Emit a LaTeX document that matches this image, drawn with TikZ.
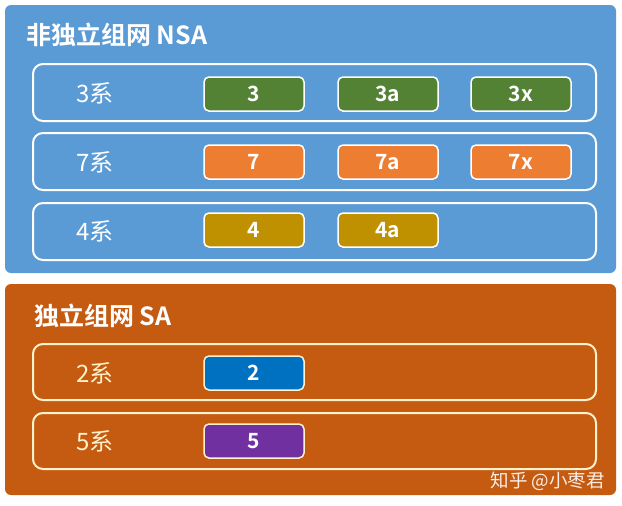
\documentclass[tikz,border=0pt]{standalone}
\usepackage{fontspec}
\setmainfont{Noto Sans CJK SC}
\newfontfamily\cjkbold{Noto Sans CJK SC Bold}
\definecolor{nsablue}{HTML}{5B9BD5}
\definecolor{saorange}{HTML}{C55A11}
\definecolor{cgreen}{HTML}{548235}
\definecolor{corange}{HTML}{ED7D31}
\definecolor{cgold}{HTML}{BF9000}
\definecolor{cblue}{HTML}{0070C0}
\definecolor{cpurple}{HTML}{7030A0}
\definecolor{cream}{HTML}{FFF2CC}
\begin{document}
\begin{tikzpicture}[x=1pt,y=-1pt,
  panel/.style={rounded corners=6pt},
  rowbox/.style={draw=#1,line width=2pt,rounded corners=10pt},
  chip/.style={draw=#1,line width=1.5pt,rounded corners=5pt,minimum width=100pt,minimum height=34pt,inner sep=0pt,text=white,font=\fontsize{21}{21}\selectfont\cjkbold},
  rowlabel/.style={text=#1,font=\fontsize{24}{24}\selectfont,anchor=west,inner sep=0pt},
  title/.style={text=white,font=\fontsize{25}{25}\selectfont\cjkbold,anchor=west,inner sep=0pt}]
\useasboundingbox (0,0) rectangle (622,506);
\fill[white] (0,0) rectangle (622,506);
% panels
\fill[nsablue,panel] (5,5) rectangle (616,273);
\fill[saorange,panel] (5,284) rectangle (616,495);
\node[title] (tnsa) at (26,35) {非独立组网 NSA};
\node[title] (tsa) at (34,316) {独立组网 SA};
% NSA rows
\draw[rowbox=white] (33,64) rectangle (596,121);
\draw[rowbox=white] (33,133) rectangle (596,190);
\draw[rowbox=white] (33,203) rectangle (596,260);
\node[rowlabel=white] (l3) at (76,93) {3系};
\node[rowlabel=white] (l7) at (76,162) {7系};
\node[rowlabel=white] (l4) at (76,231) {4系};
\node[chip=white,fill=cgreen] (c3) at (254,94) {3};
\node[chip=white,fill=cgreen] (c3a) at (388,94) {3a};
\node[chip=white,fill=cgreen] (c3x) at (521,94) {3x};
\node[chip=white,fill=corange] (c7) at (254,162) {7};
\node[chip=white,fill=corange] (c7a) at (388,162) {7a};
\node[chip=white,fill=corange] (c7x) at (521,162) {7x};
\node[chip=white,fill=cgold] (c4) at (254,230) {4};
\node[chip=white,fill=cgold] (c4a) at (388,230) {4a};
% SA rows
\draw[rowbox=cream] (33,344) rectangle (596,400);
\draw[rowbox=cream] (33,413) rectangle (596,469);
\node[rowlabel=cream] (l2) at (76,373) {2系};
\node[rowlabel=cream] (l5) at (76,441) {5系};
\node[chip=cream,fill=cblue] (c2) at (254,373) {2};
\node[chip=cream,fill=cpurple] (c5) at (254,441) {5};
\node[text=white,opacity=0.9,font=\fontsize{18.5}{18.5}\selectfont,anchor=east,inner sep=0pt] (wm) at (605,481) {知乎 @小枣君};
\end{tikzpicture}
\end{document}
